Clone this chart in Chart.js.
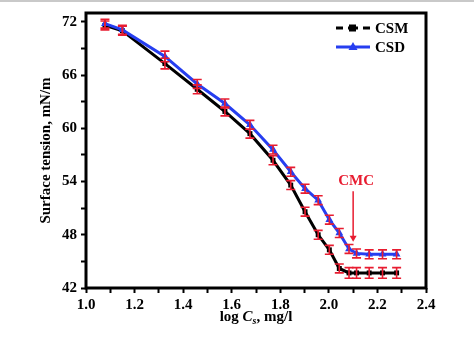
<!DOCTYPE html>
<html>
<head>
<meta charset="utf-8">
<script src="https://cdn.jsdelivr.net/npm/chart.js@4.4.0/dist/chart.umd.min.js"></script>
<style>
  html, body { margin:0; padding:0; background:#fff; }
  #wrap { width:474px; height:351px; position:relative; }
</style>
</head>
<body>
<div id="wrap"><canvas id="myChart"></canvas></div>
<script>
// log Cs (mg/l)
var logCs = [1.078, 1.15, 1.325, 1.458, 1.572, 1.675, 1.77, 1.843, 1.902, 1.956, 2.002, 2.043, 2.083, 2.114, 2.166, 2.221, 2.279];
var csm = [71.6, 71.0, 67.3, 64.4, 61.9, 59.4, 56.4, 53.6, 50.6, 48.0, 46.3, 44.2, 43.7, 43.7, 43.7, 43.7, 43.7];
var csd = [71.8, 71.1, 68.1, 65.0, 62.8, 60.4, 57.6, 55.1, 53.2, 51.9, 49.7, 48.2, 46.4, 45.9, 45.8, 45.8, 45.8];
var errCsm = [0.5, 0.5, 0.6, 0.5, 0.5, 0.5, 0.5, 0.5, 0.5, 0.5, 0.5, 0.5, 0.6, 0.6, 0.6, 0.6, 0.6];
var errCsd = [0.5, 0.5, 0.6, 0.5, 0.5, 0.5, 0.5, 0.5, 0.5, 0.5, 0.5, 0.5, 0.5, 0.5, 0.5, 0.5, 0.5];
var xTicks = [1.0, 1.2, 1.4, 1.6, 1.8, 2.0, 2.2, 2.4];
var yTicks = [42, 48, 54, 60, 66, 72];
var cmc = {x: 2.1, textY: 54.1, fromY: 52.9, toY: 47.2};

var serif = "'Liberation Serif', 'Times New Roman', serif";
var red = "rgb(232,28,48)";
var blue = "rgb(38,62,240)";

function pts(ys){
  var out=[];
  for(var i in logCs){ out.push({x:logCs[i], y:ys[i]}); }
  return out;
}

var errs = [errCsm, errCsd];

var extras = {
  id:'extras',
  beforeDraw:function(chart){
    var c=chart.ctx;
    c.save();
    c.fillStyle='#c9c9c9';
    c.fillRect(0,0,chart.width,2);
    c.restore();
  },
  afterDatasetsDraw:function(chart){
    var c=chart.ctx, xs=chart.scales.x, ys=chart.scales.y;
    c.save();
    c.strokeStyle=red;
    c.lineWidth=1.6;
    chart.data.datasets.forEach(function(ds,k){
      ds.data.forEach(function(p,i){
        var px=xs.getPixelForValue(p.x);
        var top=ys.getPixelForValue(p.y+errs[k][i]);
        var bot=ys.getPixelForValue(p.y-errs[k][i]);
        c.beginPath();
        c.moveTo(px,top); c.lineTo(px,bot);
        c.moveTo(px-4.5,top); c.lineTo(px+4.5,top);
        c.moveTo(px-4.5,bot); c.lineTo(px+4.5,bot);
        c.stroke();
      });
    });
    c.restore();
  },
  afterDraw:function(chart){
    var c=chart.ctx, a=chart.chartArea, xs=chart.scales.x, ys=chart.scales.y;
    c.save();
    // frame
    c.strokeStyle='#000';
    c.lineWidth=3;
    c.strokeRect(a.left,a.top,a.right-a.left,a.bottom-a.top);

    // CMC annotation
    var ax=xs.getPixelForValue(cmc.x);
    c.fillStyle=red;
    c.font='bold 15px '+serif;
    c.textAlign='center';
    c.textBaseline='middle';
    c.fillText('CMC', ax+3, ys.getPixelForValue(cmc.textY));
    c.strokeStyle=red;
    c.lineWidth=1.5;
    var y1=ys.getPixelForValue(cmc.fromY), y2=ys.getPixelForValue(cmc.toY);
    c.beginPath(); c.moveTo(ax,y1); c.lineTo(ax,y2-4); c.stroke();
    c.beginPath(); c.moveTo(ax-3.5,y2-6); c.lineTo(ax+3.5,y2-6); c.lineTo(ax,y2); c.closePath(); c.fill();

    // legend
    chart.data.datasets.forEach(function(ds,k){
      var ly=a.top+15+k*19;
      var lx=a.right-90;
      c.strokeStyle=ds.borderColor;
      c.lineWidth=3;
      if(k===0){
        c.beginPath(); c.moveTo(lx,ly); c.lineTo(lx+7,ly); c.moveTo(lx+12,ly); c.lineTo(lx+22,ly); c.moveTo(lx+27,ly); c.lineTo(lx+34,ly); c.stroke();
        c.fillStyle=ds.backgroundColor;
        c.fillRect(lx+13,ly-3.5,7,7);
      } else {
        c.beginPath(); c.moveTo(lx,ly); c.lineTo(lx+34,ly); c.stroke();
        c.fillStyle=ds.backgroundColor;
        c.beginPath(); c.moveTo(lx+17,ly-5); c.lineTo(lx+21.5,ly+3); c.lineTo(lx+12.5,ly+3); c.closePath(); c.fill();
      }
      c.fillStyle='#000';
      c.font='bold 15px '+serif;
      c.textAlign='left';
      c.textBaseline='middle';
      c.fillText(ds.label, lx+39, ly+1);
    });

    // axis titles
    c.fillStyle='#000';
    c.textBaseline='alphabetic';
    c.save();
    c.translate(50,(a.top+a.bottom)/2);
    c.rotate(-Math.PI/2);
    c.textAlign='center';
    c.font='bold 15px '+serif;
    c.fillText('Surface tension, mN/m',0,0);
    c.restore();

    var parts=[
      {t:'log ',f:'bold 15px '+serif,dy:0},
      {t:'C',f:'italic bold 15px '+serif,dy:0},
      {t:'s',f:'italic bold 10px '+serif,dy:3},
      {t:', mg/l',f:'bold 15px '+serif,dy:0}
    ];
    var w=0;
    parts.forEach(function(p){ c.font=p.f; w+=c.measureText(p.t).width; });
    var x=(a.left+a.right)/2-w/2, by=a.bottom+33;
    c.textAlign='left';
    parts.forEach(function(p){ c.font=p.f; c.fillText(p.t,x,by+p.dy); x+=c.measureText(p.t).width; });
    c.restore();
  }
};

var ctx=document.getElementById('myChart');
var chart=new Chart(ctx,{
  type:'line',
  data:{
    datasets:[
      {
        label:'CSM',
        data:pts(csm),
        borderColor:'#000',
        backgroundColor:'#000',
        borderWidth:3,
        pointStyle:'rect',
        pointRadius:3.5,
        pointBorderWidth:0,
        tension:0,
        order:1
      },
      {
        label:'CSD',
        data:pts(csd),
        borderColor:blue,
        backgroundColor:blue,
        borderWidth:3,
        pointStyle:'triangle',
        pointRadius:4.5,
        pointBorderWidth:0,
        tension:0,
        order:0
      }
    ]
  },
  options:{
    responsive:true,
    maintainAspectRatio:false,
    animation:false,
    layout:{padding:{left:0, top:13, right:48, bottom:0}},
    plugins:{legend:{display:false}, tooltip:{enabled:false}},
    scales:{
      x:{
        type:'linear',
        min:1.0, max:2.4,
        afterBuildTicks:function(s){
          var t=[];
          for(var i=0;i<=14;i++){ t.push({value:Math.round((1+i*0.1)*10)/10}); }
          s.ticks=t;
        },
        afterFit:function(s){ s.height=63; },
        ticks:{
          autoSkip:false, maxRotation:0, padding:3,
          color:'#000',
          font:{family:serif, size:15, weight:'bold'},
          callback:function(v){
            for(var i in xTicks){ if(Math.abs(xTicks[i]-v)<1e-6) return xTicks[i].toFixed(1); }
            return '';
          }
        },
        grid:{drawOnChartArea:false, drawTicks:true, tickLength:5, tickColor:'#000', tickWidth:2},
        border:{display:false}
      },
      y:{
        type:'linear',
        min:42, max:73,
        afterBuildTicks:function(s){
          var t=[];
          for(var v=42;v<=72;v+=3){ t.push({value:v}); }
          s.ticks=t;
        },
        afterFit:function(s){ s.width=86; },
        ticks:{
          autoSkip:false, padding:4,
          color:'#000',
          font:{family:serif, size:15, weight:'bold'},
          callback:function(v){ return yTicks.indexOf(v)>=0 ? String(v) : ''; }
        },
        grid:{drawOnChartArea:false, drawTicks:true, tickLength:5, tickColor:'#000', tickWidth:2},
        border:{display:false}
      }
    }
  },
  plugins:[extras]
});
</script>
</body>
</html>
